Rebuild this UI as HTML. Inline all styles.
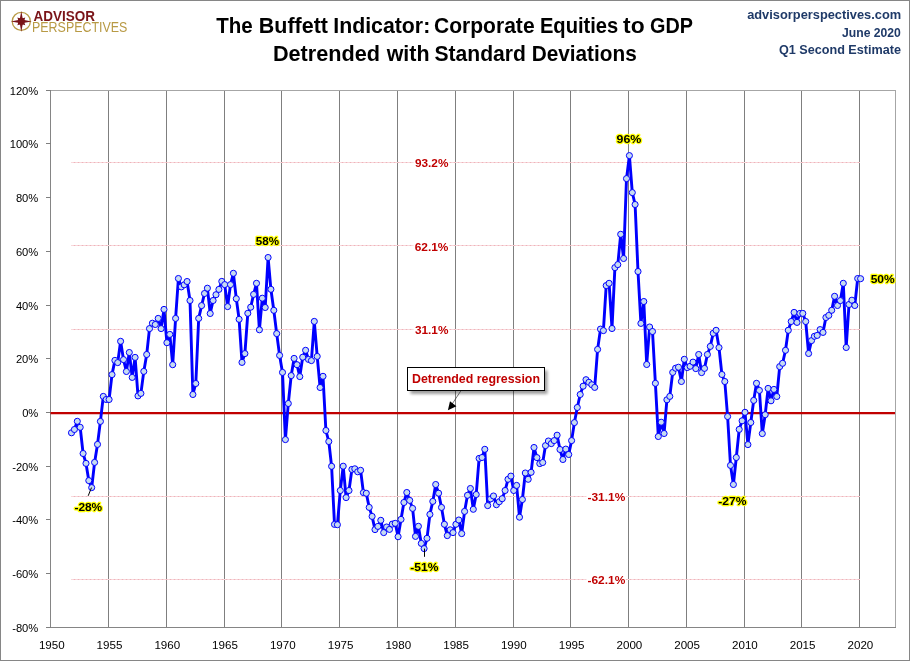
<!DOCTYPE html>
<html lang="en"><head><meta charset="utf-8"><title>The Buffett Indicator: Corporate Equities to GDP</title>
<style>
html,body{margin:0;padding:0;background:#fff;}
body{width:910px;height:661px;overflow:hidden;}
svg{display:block;}
text{font-family:"Liberation Sans",sans-serif;}
.ax{font-size:11.2px;fill:#000;}
.sd{font-size:11px;font-weight:bold;fill:#c00000;}
.yl{font-size:11px;font-weight:bold;fill:#000;}
.yg{font-size:11px;font-weight:bold;fill:#ffff00;stroke:#ffff00;stroke-width:2.3;stroke-linejoin:round;}
.hd{font-size:12.6px;font-weight:bold;fill:#1f3a68;}
.ti{font-size:22px;font-weight:bold;fill:#000;}
</style></head><body>
<svg width="910" height="661" viewBox="0 0 910 661">
<rect x="0" y="0" width="910" height="661" fill="#fff"/>
<path d="M108.5 90.5V627.5 M166.5 90.5V627.5 M224.5 90.5V627.5 M281.5 90.5V627.5 M339.5 90.5V627.5 M397.5 90.5V627.5 M455.5 90.5V627.5 M513.5 90.5V627.5 M570.5 90.5V627.5 M628.5 90.5V627.5 M686.5 90.5V627.5 M744.5 90.5V627.5 M801.5 90.5V627.5 M859.5 90.5V627.5" stroke="#7f7f7f" stroke-width="1" fill="none" shape-rendering="crispEdges"/>
<path d="M50.0 90.5H896.0M895.5 90.5V628.0" stroke="#a6a6a6" stroke-width="1" fill="none" shape-rendering="crispEdges"/>
<path d="M50.5 90.0V628.0M50.5 627.5H896.0" stroke="#858585" stroke-width="1" fill="none" shape-rendering="crispEdges"/>
<path d="M46 90.5H50.5 M46 143.5H50.5 M46 197.5H50.5 M46 251.5H50.5 M46 305.5H50.5 M46 358.5H50.5 M46 412.5H50.5 M46 466.5H50.5 M46 519.5H50.5 M46 573.5H50.5 M46 627.5H50.5" stroke="#7f7f7f" stroke-width="1" fill="none" shape-rendering="crispEdges"/>
<text class="ax" x="38.3" y="94.8" text-anchor="end">120%</text>
<text class="ax" x="38.3" y="147.8" text-anchor="end">100%</text>
<text class="ax" x="38.3" y="201.8" text-anchor="end">80%</text>
<text class="ax" x="38.3" y="255.8" text-anchor="end">60%</text>
<text class="ax" x="38.3" y="309.8" text-anchor="end">40%</text>
<text class="ax" x="38.3" y="362.8" text-anchor="end">20%</text>
<text class="ax" x="38.3" y="416.8" text-anchor="end">0%</text>
<text class="ax" x="38.3" y="470.8" text-anchor="end">-20%</text>
<text class="ax" x="38.3" y="523.8" text-anchor="end">-40%</text>
<text class="ax" x="38.3" y="577.8" text-anchor="end">-60%</text>
<text class="ax" x="38.3" y="631.8" text-anchor="end">-80%</text>
<text class="ax" style="font-size:11.6px" x="51.8" y="649.1" text-anchor="middle">1950</text>
<text class="ax" style="font-size:11.6px" x="109.5" y="649.1" text-anchor="middle">1955</text>
<text class="ax" style="font-size:11.6px" x="167.3" y="649.1" text-anchor="middle">1960</text>
<text class="ax" style="font-size:11.6px" x="225.0" y="649.1" text-anchor="middle">1965</text>
<text class="ax" style="font-size:11.6px" x="282.8" y="649.1" text-anchor="middle">1970</text>
<text class="ax" style="font-size:11.6px" x="340.6" y="649.1" text-anchor="middle">1975</text>
<text class="ax" style="font-size:11.6px" x="398.3" y="649.1" text-anchor="middle">1980</text>
<text class="ax" style="font-size:11.6px" x="456.1" y="649.1" text-anchor="middle">1985</text>
<text class="ax" style="font-size:11.6px" x="513.8" y="649.1" text-anchor="middle">1990</text>
<text class="ax" style="font-size:11.6px" x="571.6" y="649.1" text-anchor="middle">1995</text>
<text class="ax" style="font-size:11.6px" x="629.4" y="649.1" text-anchor="middle">2000</text>
<text class="ax" style="font-size:11.6px" x="687.1" y="649.1" text-anchor="middle">2005</text>
<text class="ax" style="font-size:11.6px" x="744.9" y="649.1" text-anchor="middle">2010</text>
<text class="ax" style="font-size:11.6px" x="802.6" y="649.1" text-anchor="middle">2015</text>
<text class="ax" style="font-size:11.6px" x="860.4" y="649.1" text-anchor="middle">2020</text>
<path d="M71 162.5H860" stroke="#f8d9dc" stroke-width="1" fill="none" shape-rendering="crispEdges"/>
<path d="M73 162.5H860" stroke="#f6cfd3" stroke-width="1" stroke-dasharray="3 1" fill="none" shape-rendering="crispEdges"/>
<path d="M74 162.5H860" stroke="#eeb3ba" stroke-width="1" stroke-dasharray="1 3" fill="none" shape-rendering="crispEdges"/>
<path d="M71 245.5H860" stroke="#f8d9dc" stroke-width="1" fill="none" shape-rendering="crispEdges"/>
<path d="M73 245.5H860" stroke="#f6cfd3" stroke-width="1" stroke-dasharray="3 1" fill="none" shape-rendering="crispEdges"/>
<path d="M74 245.5H860" stroke="#eeb3ba" stroke-width="1" stroke-dasharray="1 3" fill="none" shape-rendering="crispEdges"/>
<path d="M71 329.5H860" stroke="#f8d9dc" stroke-width="1" fill="none" shape-rendering="crispEdges"/>
<path d="M73 329.5H860" stroke="#f6cfd3" stroke-width="1" stroke-dasharray="3 1" fill="none" shape-rendering="crispEdges"/>
<path d="M74 329.5H860" stroke="#eeb3ba" stroke-width="1" stroke-dasharray="1 3" fill="none" shape-rendering="crispEdges"/>
<path d="M71 496.5H860" stroke="#f8d9dc" stroke-width="1" fill="none" shape-rendering="crispEdges"/>
<path d="M73 496.5H860" stroke="#f6cfd3" stroke-width="1" stroke-dasharray="3 1" fill="none" shape-rendering="crispEdges"/>
<path d="M74 496.5H860" stroke="#eeb3ba" stroke-width="1" stroke-dasharray="1 3" fill="none" shape-rendering="crispEdges"/>
<path d="M71 579.5H860" stroke="#f8d9dc" stroke-width="1" fill="none" shape-rendering="crispEdges"/>
<path d="M73 579.5H860" stroke="#f6cfd3" stroke-width="1" stroke-dasharray="3 1" fill="none" shape-rendering="crispEdges"/>
<path d="M74 579.5H860" stroke="#eeb3ba" stroke-width="1" stroke-dasharray="1 3" fill="none" shape-rendering="crispEdges"/>
<path d="M50.5 413.15H895.0" stroke="#c00000" stroke-width="2.3" fill="none"/>
<rect x="413.5" y="157.2" width="35.6" height="12" fill="#fff"/>
<text class="sd" x="414.93" textLength="33.49" lengthAdjust="spacingAndGlyphs" y="166.7">93.2%</text>
<rect x="413.5" y="241.4" width="35.6" height="12" fill="#fff"/>
<text class="sd" x="414.66" textLength="33.76" lengthAdjust="spacingAndGlyphs" y="250.9">62.1%</text>
<rect x="413.5" y="324.3" width="35.6" height="12" fill="#fff"/>
<text class="sd" x="414.93" textLength="33.49" lengthAdjust="spacingAndGlyphs" y="333.8">31.1%</text>
<rect x="586.3" y="491.4" width="39.49999999999998" height="12" fill="#fff"/>
<text class="sd" x="587.46" textLength="37.83" lengthAdjust="spacingAndGlyphs" y="500.9">-31.1%</text>
<rect x="586.3" y="574.4" width="39.49999999999998" height="12" fill="#fff"/>
<text class="sd" x="587.46" textLength="37.83" lengthAdjust="spacingAndGlyphs" y="583.9">-62.1%</text>
<path d="M71.5 432.8 L74.4 429.5 L77.3 421.3 L80.2 427.3 L83.1 453.5 L86.0 463.4 L88.8 480.6 L91.7 487.6 L94.6 462.4 L97.5 444.4 L100.4 421.4 L103.3 396.4 L106.2 399.5 L109.1 399.5 L112.0 374.6 L114.9 360.4 L117.7 362.6 L120.6 341.3 L123.5 359.6 L126.4 371.5 L129.3 352.5 L132.2 377.4 L135.1 357.4 L138.0 395.9 L140.9 393.4 L143.8 371.4 L146.7 354.5 L149.5 328.6 L152.4 323.2 L155.3 324.5 L158.2 318.4 L161.1 328.6 L164.0 309.4 L166.9 342.7 L169.8 334.4 L172.7 364.7 L175.6 318.4 L178.4 278.5 L181.3 286.9 L184.2 284.8 L187.1 281.5 L190.0 300.5 L192.9 394.5 L195.8 383.5 L198.7 318.4 L201.6 305.6 L204.5 293.5 L207.4 288.2 L210.2 313.5 L213.1 300.5 L216.0 294.7 L218.9 289.4 L221.8 281.4 L224.7 284.6 L227.6 306.6 L230.5 284.6 L233.4 273.3 L236.3 298.7 L239.1 319.3 L242.0 362.4 L244.9 353.6 L247.8 313.3 L250.7 307.2 L253.6 294.4 L256.5 283.3 L259.4 329.8 L262.3 298.2 L265.2 307.5 L268.1 257.5 L270.9 289.3 L273.8 310.3 L276.7 333.6 L279.6 355.4 L282.5 372.4 L285.4 439.6 L288.3 403.5 L291.2 375.6 L294.1 358.4 L297.0 364.7 L299.8 376.6 L302.7 357.2 L305.6 350.3 L308.5 359.4 L311.4 360.6 L314.3 321.4 L317.2 356.4 L320.1 387.5 L323.0 376.3 L325.9 430.5 L328.8 441.5 L331.6 466.3 L334.5 524.4 L337.4 524.7 L340.3 490.5 L343.2 466.2 L346.1 497.6 L349.0 490.5 L351.9 469.4 L354.8 468.8 L357.7 471.8 L360.6 470.3 L363.4 492.6 L366.3 493.3 L369.2 507.4 L372.1 516.4 L375.0 529.6 L377.9 526.4 L380.8 520.3 L383.7 532.6 L386.6 527.0 L389.5 529.4 L392.3 524.1 L395.2 523.3 L398.1 536.7 L401.0 519.4 L403.9 502.5 L406.8 492.5 L409.7 500.4 L412.6 508.4 L415.5 536.4 L418.4 526.3 L421.3 543.4 L424.1 548.6 L427.0 538.3 L429.9 514.4 L432.8 501.4 L435.7 484.5 L438.6 493.2 L441.5 507.4 L444.4 524.3 L447.3 535.6 L450.2 529.8 L453.0 532.6 L455.9 524.3 L458.8 520.0 L461.7 533.6 L464.6 511.4 L467.5 495.3 L470.4 488.5 L473.3 509.3 L476.2 494.5 L479.1 458.4 L482.0 457.5 L484.8 449.3 L487.7 505.6 L490.6 498.9 L493.5 496.0 L496.4 504.7 L499.3 501.7 L502.2 498.7 L505.1 490.5 L508.0 479.3 L510.9 476.1 L513.7 490.5 L516.6 485.4 L519.5 517.2 L522.4 499.5 L525.3 473.0 L528.2 479.3 L531.1 472.3 L534.0 447.5 L536.9 457.6 L539.8 463.6 L542.7 462.5 L545.5 445.6 L548.4 441.0 L551.3 443.6 L554.2 440.6 L557.1 435.2 L560.0 449.5 L562.9 459.5 L565.8 449.1 L568.7 454.5 L571.6 440.6 L574.4 422.6 L577.3 407.5 L580.2 394.5 L583.1 386.2 L586.0 379.7 L588.9 382.3 L591.8 384.7 L594.7 387.4 L597.6 349.4 L600.5 329.1 L603.4 330.6 L606.2 285.6 L609.1 283.3 L612.0 328.5 L614.9 267.6 L617.8 264.6 L620.7 234.3 L623.6 258.5 L626.5 178.6 L629.4 155.6 L632.3 192.6 L635.1 204.5 L638.0 271.5 L640.9 323.4 L643.8 301.5 L646.7 364.5 L649.6 327.0 L652.5 331.5 L655.4 383.3 L658.3 436.5 L661.2 422.2 L664.1 433.5 L666.9 399.8 L669.8 396.4 L672.7 372.4 L675.6 368.2 L678.5 367.2 L681.4 381.5 L684.3 359.3 L687.2 367.6 L690.1 366.3 L693.0 362.1 L695.8 368.6 L698.7 354.5 L701.6 372.6 L704.5 368.4 L707.4 354.5 L710.3 346.4 L713.2 333.3 L716.1 330.3 L719.0 347.6 L721.9 374.5 L724.8 381.5 L727.6 416.5 L730.5 465.4 L733.4 484.5 L736.3 457.5 L739.2 429.4 L742.1 420.8 L745.0 412.3 L747.9 444.6 L750.8 422.5 L753.7 400.4 L756.5 383.3 L759.4 390.4 L762.3 433.6 L765.2 414.7 L768.1 388.4 L771.0 400.8 L773.9 389.4 L776.8 396.5 L779.7 366.6 L782.6 363.3 L785.5 350.3 L788.3 330.3 L791.2 321.5 L794.1 312.4 L797.0 322.4 L799.9 313.4 L802.8 313.4 L805.7 321.5 L808.6 353.5 L811.5 340.6 L814.4 336.3 L817.2 335.4 L820.1 329.6 L823.0 332.4 L825.9 317.5 L828.8 315.4 L831.7 310.3 L834.6 296.3 L837.5 305.5 L840.4 300.6 L843.3 283.3 L846.2 347.5 L849.0 304.5 L851.9 300.2 L854.8 305.5 L857.7 278.5 L860.6 278.7" stroke="#0000ff" stroke-width="2.9" fill="none" stroke-linejoin="round" stroke-linecap="round"/>
<g fill="#c6dbf1" stroke="#0000ff" stroke-width="1.0">
<circle cx="71.5" cy="432.8" r="3.05"/>
<circle cx="74.4" cy="429.5" r="3.05"/>
<circle cx="77.3" cy="421.3" r="3.05"/>
<circle cx="80.2" cy="427.3" r="3.05"/>
<circle cx="83.1" cy="453.5" r="3.05"/>
<circle cx="86.0" cy="463.4" r="3.05"/>
<circle cx="88.8" cy="480.6" r="3.05"/>
<circle cx="91.7" cy="487.6" r="3.05"/>
<circle cx="94.6" cy="462.4" r="3.05"/>
<circle cx="97.5" cy="444.4" r="3.05"/>
<circle cx="100.4" cy="421.4" r="3.05"/>
<circle cx="103.3" cy="396.4" r="3.05"/>
<circle cx="106.2" cy="399.5" r="3.05"/>
<circle cx="109.1" cy="399.5" r="3.05"/>
<circle cx="112.0" cy="374.6" r="3.05"/>
<circle cx="114.9" cy="360.4" r="3.05"/>
<circle cx="117.7" cy="362.6" r="3.05"/>
<circle cx="120.6" cy="341.3" r="3.05"/>
<circle cx="123.5" cy="359.6" r="3.05"/>
<circle cx="126.4" cy="371.5" r="3.05"/>
<circle cx="129.3" cy="352.5" r="3.05"/>
<circle cx="132.2" cy="377.4" r="3.05"/>
<circle cx="135.1" cy="357.4" r="3.05"/>
<circle cx="138.0" cy="395.9" r="3.05"/>
<circle cx="140.9" cy="393.4" r="3.05"/>
<circle cx="143.8" cy="371.4" r="3.05"/>
<circle cx="146.7" cy="354.5" r="3.05"/>
<circle cx="149.5" cy="328.6" r="3.05"/>
<circle cx="152.4" cy="323.2" r="3.05"/>
<circle cx="155.3" cy="324.5" r="3.05"/>
<circle cx="158.2" cy="318.4" r="3.05"/>
<circle cx="161.1" cy="328.6" r="3.05"/>
<circle cx="164.0" cy="309.4" r="3.05"/>
<circle cx="166.9" cy="342.7" r="3.05"/>
<circle cx="169.8" cy="334.4" r="3.05"/>
<circle cx="172.7" cy="364.7" r="3.05"/>
<circle cx="175.6" cy="318.4" r="3.05"/>
<circle cx="178.4" cy="278.5" r="3.05"/>
<circle cx="181.3" cy="286.9" r="3.05"/>
<circle cx="184.2" cy="284.8" r="3.05"/>
<circle cx="187.1" cy="281.5" r="3.05"/>
<circle cx="190.0" cy="300.5" r="3.05"/>
<circle cx="192.9" cy="394.5" r="3.05"/>
<circle cx="195.8" cy="383.5" r="3.05"/>
<circle cx="198.7" cy="318.4" r="3.05"/>
<circle cx="201.6" cy="305.6" r="3.05"/>
<circle cx="204.5" cy="293.5" r="3.05"/>
<circle cx="207.4" cy="288.2" r="3.05"/>
<circle cx="210.2" cy="313.5" r="3.05"/>
<circle cx="213.1" cy="300.5" r="3.05"/>
<circle cx="216.0" cy="294.7" r="3.05"/>
<circle cx="218.9" cy="289.4" r="3.05"/>
<circle cx="221.8" cy="281.4" r="3.05"/>
<circle cx="224.7" cy="284.6" r="3.05"/>
<circle cx="227.6" cy="306.6" r="3.05"/>
<circle cx="230.5" cy="284.6" r="3.05"/>
<circle cx="233.4" cy="273.3" r="3.05"/>
<circle cx="236.3" cy="298.7" r="3.05"/>
<circle cx="239.1" cy="319.3" r="3.05"/>
<circle cx="242.0" cy="362.4" r="3.05"/>
<circle cx="244.9" cy="353.6" r="3.05"/>
<circle cx="247.8" cy="313.3" r="3.05"/>
<circle cx="250.7" cy="307.2" r="3.05"/>
<circle cx="253.6" cy="294.4" r="3.05"/>
<circle cx="256.5" cy="283.3" r="3.05"/>
<circle cx="259.4" cy="329.8" r="3.05"/>
<circle cx="262.3" cy="298.2" r="3.05"/>
<circle cx="265.2" cy="307.5" r="3.05"/>
<circle cx="268.1" cy="257.5" r="3.05"/>
<circle cx="270.9" cy="289.3" r="3.05"/>
<circle cx="273.8" cy="310.3" r="3.05"/>
<circle cx="276.7" cy="333.6" r="3.05"/>
<circle cx="279.6" cy="355.4" r="3.05"/>
<circle cx="282.5" cy="372.4" r="3.05"/>
<circle cx="285.4" cy="439.6" r="3.05"/>
<circle cx="288.3" cy="403.5" r="3.05"/>
<circle cx="291.2" cy="375.6" r="3.05"/>
<circle cx="294.1" cy="358.4" r="3.05"/>
<circle cx="297.0" cy="364.7" r="3.05"/>
<circle cx="299.8" cy="376.6" r="3.05"/>
<circle cx="302.7" cy="357.2" r="3.05"/>
<circle cx="305.6" cy="350.3" r="3.05"/>
<circle cx="308.5" cy="359.4" r="3.05"/>
<circle cx="311.4" cy="360.6" r="3.05"/>
<circle cx="314.3" cy="321.4" r="3.05"/>
<circle cx="317.2" cy="356.4" r="3.05"/>
<circle cx="320.1" cy="387.5" r="3.05"/>
<circle cx="323.0" cy="376.3" r="3.05"/>
<circle cx="325.9" cy="430.5" r="3.05"/>
<circle cx="328.8" cy="441.5" r="3.05"/>
<circle cx="331.6" cy="466.3" r="3.05"/>
<circle cx="334.5" cy="524.4" r="3.05"/>
<circle cx="337.4" cy="524.7" r="3.05"/>
<circle cx="340.3" cy="490.5" r="3.05"/>
<circle cx="343.2" cy="466.2" r="3.05"/>
<circle cx="346.1" cy="497.6" r="3.05"/>
<circle cx="349.0" cy="490.5" r="3.05"/>
<circle cx="351.9" cy="469.4" r="3.05"/>
<circle cx="354.8" cy="468.8" r="3.05"/>
<circle cx="357.7" cy="471.8" r="3.05"/>
<circle cx="360.6" cy="470.3" r="3.05"/>
<circle cx="363.4" cy="492.6" r="3.05"/>
<circle cx="366.3" cy="493.3" r="3.05"/>
<circle cx="369.2" cy="507.4" r="3.05"/>
<circle cx="372.1" cy="516.4" r="3.05"/>
<circle cx="375.0" cy="529.6" r="3.05"/>
<circle cx="377.9" cy="526.4" r="3.05"/>
<circle cx="380.8" cy="520.3" r="3.05"/>
<circle cx="383.7" cy="532.6" r="3.05"/>
<circle cx="386.6" cy="527.0" r="3.05"/>
<circle cx="389.5" cy="529.4" r="3.05"/>
<circle cx="392.3" cy="524.1" r="3.05"/>
<circle cx="395.2" cy="523.3" r="3.05"/>
<circle cx="398.1" cy="536.7" r="3.05"/>
<circle cx="401.0" cy="519.4" r="3.05"/>
<circle cx="403.9" cy="502.5" r="3.05"/>
<circle cx="406.8" cy="492.5" r="3.05"/>
<circle cx="409.7" cy="500.4" r="3.05"/>
<circle cx="412.6" cy="508.4" r="3.05"/>
<circle cx="415.5" cy="536.4" r="3.05"/>
<circle cx="418.4" cy="526.3" r="3.05"/>
<circle cx="421.3" cy="543.4" r="3.05"/>
<circle cx="424.1" cy="548.6" r="3.05"/>
<circle cx="427.0" cy="538.3" r="3.05"/>
<circle cx="429.9" cy="514.4" r="3.05"/>
<circle cx="432.8" cy="501.4" r="3.05"/>
<circle cx="435.7" cy="484.5" r="3.05"/>
<circle cx="438.6" cy="493.2" r="3.05"/>
<circle cx="441.5" cy="507.4" r="3.05"/>
<circle cx="444.4" cy="524.3" r="3.05"/>
<circle cx="447.3" cy="535.6" r="3.05"/>
<circle cx="450.2" cy="529.8" r="3.05"/>
<circle cx="453.0" cy="532.6" r="3.05"/>
<circle cx="455.9" cy="524.3" r="3.05"/>
<circle cx="458.8" cy="520.0" r="3.05"/>
<circle cx="461.7" cy="533.6" r="3.05"/>
<circle cx="464.6" cy="511.4" r="3.05"/>
<circle cx="467.5" cy="495.3" r="3.05"/>
<circle cx="470.4" cy="488.5" r="3.05"/>
<circle cx="473.3" cy="509.3" r="3.05"/>
<circle cx="476.2" cy="494.5" r="3.05"/>
<circle cx="479.1" cy="458.4" r="3.05"/>
<circle cx="482.0" cy="457.5" r="3.05"/>
<circle cx="484.8" cy="449.3" r="3.05"/>
<circle cx="487.7" cy="505.6" r="3.05"/>
<circle cx="490.6" cy="498.9" r="3.05"/>
<circle cx="493.5" cy="496.0" r="3.05"/>
<circle cx="496.4" cy="504.7" r="3.05"/>
<circle cx="499.3" cy="501.7" r="3.05"/>
<circle cx="502.2" cy="498.7" r="3.05"/>
<circle cx="505.1" cy="490.5" r="3.05"/>
<circle cx="508.0" cy="479.3" r="3.05"/>
<circle cx="510.9" cy="476.1" r="3.05"/>
<circle cx="513.7" cy="490.5" r="3.05"/>
<circle cx="516.6" cy="485.4" r="3.05"/>
<circle cx="519.5" cy="517.2" r="3.05"/>
<circle cx="522.4" cy="499.5" r="3.05"/>
<circle cx="525.3" cy="473.0" r="3.05"/>
<circle cx="528.2" cy="479.3" r="3.05"/>
<circle cx="531.1" cy="472.3" r="3.05"/>
<circle cx="534.0" cy="447.5" r="3.05"/>
<circle cx="536.9" cy="457.6" r="3.05"/>
<circle cx="539.8" cy="463.6" r="3.05"/>
<circle cx="542.7" cy="462.5" r="3.05"/>
<circle cx="545.5" cy="445.6" r="3.05"/>
<circle cx="548.4" cy="441.0" r="3.05"/>
<circle cx="551.3" cy="443.6" r="3.05"/>
<circle cx="554.2" cy="440.6" r="3.05"/>
<circle cx="557.1" cy="435.2" r="3.05"/>
<circle cx="560.0" cy="449.5" r="3.05"/>
<circle cx="562.9" cy="459.5" r="3.05"/>
<circle cx="565.8" cy="449.1" r="3.05"/>
<circle cx="568.7" cy="454.5" r="3.05"/>
<circle cx="571.6" cy="440.6" r="3.05"/>
<circle cx="574.4" cy="422.6" r="3.05"/>
<circle cx="577.3" cy="407.5" r="3.05"/>
<circle cx="580.2" cy="394.5" r="3.05"/>
<circle cx="583.1" cy="386.2" r="3.05"/>
<circle cx="586.0" cy="379.7" r="3.05"/>
<circle cx="588.9" cy="382.3" r="3.05"/>
<circle cx="591.8" cy="384.7" r="3.05"/>
<circle cx="594.7" cy="387.4" r="3.05"/>
<circle cx="597.6" cy="349.4" r="3.05"/>
<circle cx="600.5" cy="329.1" r="3.05"/>
<circle cx="603.4" cy="330.6" r="3.05"/>
<circle cx="606.2" cy="285.6" r="3.05"/>
<circle cx="609.1" cy="283.3" r="3.05"/>
<circle cx="612.0" cy="328.5" r="3.05"/>
<circle cx="614.9" cy="267.6" r="3.05"/>
<circle cx="617.8" cy="264.6" r="3.05"/>
<circle cx="620.7" cy="234.3" r="3.05"/>
<circle cx="623.6" cy="258.5" r="3.05"/>
<circle cx="626.5" cy="178.6" r="3.05"/>
<circle cx="629.4" cy="155.6" r="3.05"/>
<circle cx="632.3" cy="192.6" r="3.05"/>
<circle cx="635.1" cy="204.5" r="3.05"/>
<circle cx="638.0" cy="271.5" r="3.05"/>
<circle cx="640.9" cy="323.4" r="3.05"/>
<circle cx="643.8" cy="301.5" r="3.05"/>
<circle cx="646.7" cy="364.5" r="3.05"/>
<circle cx="649.6" cy="327.0" r="3.05"/>
<circle cx="652.5" cy="331.5" r="3.05"/>
<circle cx="655.4" cy="383.3" r="3.05"/>
<circle cx="658.3" cy="436.5" r="3.05"/>
<circle cx="661.2" cy="422.2" r="3.05"/>
<circle cx="664.1" cy="433.5" r="3.05"/>
<circle cx="666.9" cy="399.8" r="3.05"/>
<circle cx="669.8" cy="396.4" r="3.05"/>
<circle cx="672.7" cy="372.4" r="3.05"/>
<circle cx="675.6" cy="368.2" r="3.05"/>
<circle cx="678.5" cy="367.2" r="3.05"/>
<circle cx="681.4" cy="381.5" r="3.05"/>
<circle cx="684.3" cy="359.3" r="3.05"/>
<circle cx="687.2" cy="367.6" r="3.05"/>
<circle cx="690.1" cy="366.3" r="3.05"/>
<circle cx="693.0" cy="362.1" r="3.05"/>
<circle cx="695.8" cy="368.6" r="3.05"/>
<circle cx="698.7" cy="354.5" r="3.05"/>
<circle cx="701.6" cy="372.6" r="3.05"/>
<circle cx="704.5" cy="368.4" r="3.05"/>
<circle cx="707.4" cy="354.5" r="3.05"/>
<circle cx="710.3" cy="346.4" r="3.05"/>
<circle cx="713.2" cy="333.3" r="3.05"/>
<circle cx="716.1" cy="330.3" r="3.05"/>
<circle cx="719.0" cy="347.6" r="3.05"/>
<circle cx="721.9" cy="374.5" r="3.05"/>
<circle cx="724.8" cy="381.5" r="3.05"/>
<circle cx="727.6" cy="416.5" r="3.05"/>
<circle cx="730.5" cy="465.4" r="3.05"/>
<circle cx="733.4" cy="484.5" r="3.05"/>
<circle cx="736.3" cy="457.5" r="3.05"/>
<circle cx="739.2" cy="429.4" r="3.05"/>
<circle cx="742.1" cy="420.8" r="3.05"/>
<circle cx="745.0" cy="412.3" r="3.05"/>
<circle cx="747.9" cy="444.6" r="3.05"/>
<circle cx="750.8" cy="422.5" r="3.05"/>
<circle cx="753.7" cy="400.4" r="3.05"/>
<circle cx="756.5" cy="383.3" r="3.05"/>
<circle cx="759.4" cy="390.4" r="3.05"/>
<circle cx="762.3" cy="433.6" r="3.05"/>
<circle cx="765.2" cy="414.7" r="3.05"/>
<circle cx="768.1" cy="388.4" r="3.05"/>
<circle cx="771.0" cy="400.8" r="3.05"/>
<circle cx="773.9" cy="389.4" r="3.05"/>
<circle cx="776.8" cy="396.5" r="3.05"/>
<circle cx="779.7" cy="366.6" r="3.05"/>
<circle cx="782.6" cy="363.3" r="3.05"/>
<circle cx="785.5" cy="350.3" r="3.05"/>
<circle cx="788.3" cy="330.3" r="3.05"/>
<circle cx="791.2" cy="321.5" r="3.05"/>
<circle cx="794.1" cy="312.4" r="3.05"/>
<circle cx="797.0" cy="322.4" r="3.05"/>
<circle cx="799.9" cy="313.4" r="3.05"/>
<circle cx="802.8" cy="313.4" r="3.05"/>
<circle cx="805.7" cy="321.5" r="3.05"/>
<circle cx="808.6" cy="353.5" r="3.05"/>
<circle cx="811.5" cy="340.6" r="3.05"/>
<circle cx="814.4" cy="336.3" r="3.05"/>
<circle cx="817.2" cy="335.4" r="3.05"/>
<circle cx="820.1" cy="329.6" r="3.05"/>
<circle cx="823.0" cy="332.4" r="3.05"/>
<circle cx="825.9" cy="317.5" r="3.05"/>
<circle cx="828.8" cy="315.4" r="3.05"/>
<circle cx="831.7" cy="310.3" r="3.05"/>
<circle cx="834.6" cy="296.3" r="3.05"/>
<circle cx="837.5" cy="305.5" r="3.05"/>
<circle cx="840.4" cy="300.6" r="3.05"/>
<circle cx="843.3" cy="283.3" r="3.05"/>
<circle cx="846.2" cy="347.5" r="3.05"/>
<circle cx="849.0" cy="304.5" r="3.05"/>
<circle cx="851.9" cy="300.2" r="3.05"/>
<circle cx="854.8" cy="305.5" r="3.05"/>
<circle cx="857.7" cy="278.5" r="3.05"/>
<circle cx="860.6" cy="278.7" r="3.05"/>
</g>
<path d="M91.5 487.6L88.2 495.8M424.5 548.6V556.8" stroke="#000" stroke-width="1" fill="none"/>
<text class="yg" x="255.87" textLength="23.22" lengthAdjust="spacingAndGlyphs" y="244.8">58%</text>
<text class="yl" x="255.87" textLength="23.22" lengthAdjust="spacingAndGlyphs" y="244.8">58%</text>
<text class="yg" x="74.46" textLength="27.74" lengthAdjust="spacingAndGlyphs" y="510.9">-28%</text>
<text class="yl" x="74.46" textLength="27.74" lengthAdjust="spacingAndGlyphs" y="510.9">-28%</text>
<text class="yg" x="410.35" textLength="28.05" lengthAdjust="spacingAndGlyphs" y="570.9">-51%</text>
<text class="yl" x="410.35" textLength="28.05" lengthAdjust="spacingAndGlyphs" y="570.9">-51%</text>
<text class="yg" x="718.15" textLength="28.26" lengthAdjust="spacingAndGlyphs" y="504.8">-27%</text>
<text class="yl" x="718.15" textLength="28.26" lengthAdjust="spacingAndGlyphs" y="504.8">-27%</text>
<text class="yg" x="616.52" textLength="24.80" lengthAdjust="spacingAndGlyphs" y="143.1">96%</text>
<text class="yl" x="616.52" textLength="24.80" lengthAdjust="spacingAndGlyphs" y="143.1">96%</text>
<text class="yg" x="870.65" textLength="24.05" lengthAdjust="spacingAndGlyphs" y="283.2">50%</text>
<text class="yl" x="870.65" textLength="24.05" lengthAdjust="spacingAndGlyphs" y="283.2">50%</text>
<defs><filter id="sh" x="-10%" y="-30%" width="125%" height="180%"><feGaussianBlur stdDeviation="1.6"/></filter></defs>
<rect x="410.5" y="370.5" width="137" height="23.5" fill="#000" opacity="0.38" filter="url(#sh)"/>
<path d="M460.8 390.9L450.5 406.5" stroke="#333" stroke-width="0.7" fill="none"/>
<path d="M447.9 410.3L450.0 401.2L456.4 406.3Z" fill="#000"/>
<rect x="407.5" y="367.5" width="137" height="23" fill="#fff" stroke="#000" stroke-width="1" shape-rendering="crispEdges"/>
<text x="411.99" textLength="128.01" lengthAdjust="spacingAndGlyphs" y="383.1" font-size="13.1" font-weight="bold" fill="#c00000">Detrended regression</text>
<text class="ti" y="32.5"><tspan x="216.17" textLength="36.52" lengthAdjust="spacingAndGlyphs">The</tspan> <tspan x="258.84" textLength="69.19" lengthAdjust="spacingAndGlyphs">Buffett</tspan> <tspan x="333.25" textLength="97.01" lengthAdjust="spacingAndGlyphs">Indicator:</tspan> <tspan x="434.04" textLength="100.55" lengthAdjust="spacingAndGlyphs">Corporate</tspan> <tspan x="539.93" textLength="78.33" lengthAdjust="spacingAndGlyphs">Equities</tspan> <tspan x="623.04" textLength="21.55" lengthAdjust="spacingAndGlyphs">to</tspan> <tspan x="650.10" textLength="42.92" lengthAdjust="spacingAndGlyphs">GDP</tspan></text>
<text class="ti" y="61.2"><tspan x="272.92" textLength="107.15" lengthAdjust="spacingAndGlyphs">Detrended</tspan> <tspan x="386.70" textLength="42.82" lengthAdjust="spacingAndGlyphs">with</tspan> <tspan x="434.48" textLength="91.42" lengthAdjust="spacingAndGlyphs">Standard</tspan> <tspan x="531.68" textLength="105.08" lengthAdjust="spacingAndGlyphs">Deviations</tspan></text>
<text class="hd" x="747.15" textLength="154.07" lengthAdjust="spacingAndGlyphs" y="18.8">advisorperspectives.com</text>
<text class="hd" x="842.06" textLength="58.85" lengthAdjust="spacingAndGlyphs" y="36.6">June 2020</text>
<text class="hd" x="778.90" textLength="122.13" lengthAdjust="spacingAndGlyphs" y="54.4">Q1 Second Estimate</text>
<circle cx="21.3" cy="21.4" r="9.05" fill="none" stroke="#b89a45" stroke-width="1.3"/>
<path d="M21.30 10.90L22.93 19.77L31.80 21.40L22.93 23.03L21.30 31.90L19.67 23.03L10.80 21.40L19.67 19.77Z" fill="#7a1418"/>
<path d="M25.26 17.44L23.90 21.40L25.26 25.36L21.30 24.00L17.34 25.36L18.70 21.40L17.34 17.44L21.30 18.80Z" fill="#7a1418"/>
<circle cx="21.3" cy="21.4" r="3.3" fill="#7a1418"/>
<text x="33.41" textLength="61.48" lengthAdjust="spacingAndGlyphs" y="20.9" font-size="14.0" font-weight="bold" fill="#7a1418">ADVISOR</text>
<text x="32.00" textLength="95.41" lengthAdjust="spacingAndGlyphs" y="31.55" font-size="13.8" fill="#b89a45">PERSPECTIVES</text>
<path d="M0.5 0V661M0 0.5H910M909.5 0V661M0 660.5H910" stroke="#868686" stroke-width="1" fill="none" shape-rendering="crispEdges"/>
</svg></body></html>
